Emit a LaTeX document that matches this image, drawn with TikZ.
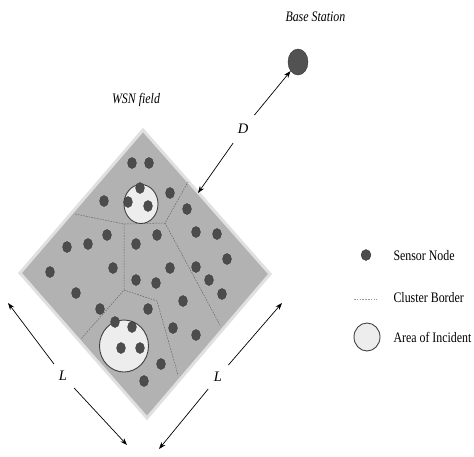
\documentclass[tikz,border=0pt]{standalone}
\usepackage{fontspec}
\usepackage{graphicx}
\setmainfont{Liberation Serif}
\usetikzlibrary{arrows.meta,calc,positioning,shapes.geometric}
\newcommand{\narrow}[1]{\scalebox{0.82}[1]{#1}}
\tikzset{
  field/.style={fill=black!30,draw=black!12,line width=3pt,line join=miter},
  cborder/.style={line width=0.5pt,black!60,dash pattern=on 1.6pt off 1.2pt},
  incident/.style={ellipse,draw=black!75,line width=0.9pt,fill=black!7,inner sep=0pt},
  sensor/.style={ellipse,fill=black!70,draw=black!80,line width=0.3pt,inner sep=0pt,
    minimum width=9pt,minimum height=11pt},
  bstation/.style={ellipse,fill=black!68,draw=black!80,inner sep=0pt,
    minimum width=20pt,minimum height=26pt},
  arr/.style={line width=0.7pt,-{Stealth[length=7pt,width=5pt]}},
  lbl/.style={font=\fontsize{14.5}{16}\selectfont},
  ital/.style={font=\fontsize{14.5}{16}\selectfont\itshape},
}

\begin{document}
\begin{tikzpicture}[x=1pt,y=-1pt]
  \useasboundingbox (0,0) rectangle (474,456);
  % ---------- the field ----------
  \coordinate (ftop) at (143,130);
  \coordinate (fright) at (270,274);
  \coordinate (fbot) at (147,418);
  \coordinate (fleft) at (20,273);
  \draw[field] (ftop) -- (fright) -- (fbot) -- (fleft) -- cycle;
  \node[ital] (wsn) at (136,100) {\narrow{WSN field}};
  % cluster borders
  \coordinate (c1) at (124,224);
  \coordinate (c2) at (165,223);
  \coordinate (c3) at (124,290);
  \coordinate (c4) at (157,301);
  \draw[cborder] (75,214) -- (c1) -- (c2) -- (188,182);
  \draw[cborder] (c1) -- (c3) -- (81,339);
  \draw[cborder] (c3) -- (c4) -- (178,375);
  \draw[cborder] (c2) -- (220,325);
  % areas of incident
  \node[incident,minimum width=34pt,minimum height=39pt] (inc1) at (141,204) {};
  \node[incident,minimum width=49pt,minimum height=52pt] (inc2) at (124,346) {};
  % sensor nodes
  \foreach \p [count=\i] in {(132,163),(149,163),(140,188),(128,202),(148,206),
      (170,193),(104,201),(187,209),(107,235),(157,235),(136,244),(196,232),
      (217,234),(67,247),(88,244),(227,259),(50,272),(113,268),(170,268),
      (196,267),(136,280),(156,283),(209,280),(222,294),(76,293),(100,309),
      (183,301),(148,309),(115,322),(132,327),(121,348),(140,348),(173,328),
      (196,335),(161,364),(144,381)}
    \node[sensor] (s\i) at \p {};
  % ---------- base station and distance D ----------
  \node[bstation] (bs) at (298,62) {};
  \node[ital,anchor=south west] (bslbl) at (282,25) {\narrow{Base Station}};
  \node[ital,inner sep=9pt] (dlab) at (243,129) {D};
  \coordinate (dend) at (198,193);
  \draw[arr] (dlab) -- (bs);
  \draw[arr] (dlab) -- (dend);
  % ---------- side lengths L ----------
  \node[ital,inner sep=7pt] (lleft) at (63,376) {L};
  \coordinate (ll1) at (8,303);
  \coordinate (ll2) at (127,445);
  \draw[arr] (lleft) -- (ll1);
  \draw[arr] (lleft) -- (ll2);
  \node[ital,inner sep=7pt] (lright) at (218,377) {L};
  \coordinate (lr1) at (282,303);
  \coordinate (lr2) at (159,449);
  \draw[arr] (lright) -- (lr1);
  \draw[arr] (lright) -- (lr2);
  % ---------- legend ----------
  \node[sensor,minimum width=10pt,minimum height=11pt] (legs) at (366,255) {};
  \node[lbl,anchor=west] (legstxt) at (390,256) {\narrow{Sensor Node}};
  \coordinate (legc1) at (354,299);
  \coordinate (legc2) at (377,299);
  \draw[cborder,black!40] (legc1) -- (legc2);
  \node[lbl,anchor=west] (legctxt) at (390,298) {\narrow{Cluster Border}};
  \node[incident,minimum width=26pt,minimum height=28pt] (legi) at (367,337) {};
  \node[lbl,anchor=west] (legitxt) at (390,337) {\narrow{Area of Incident}};
\end{tikzpicture}
\end{document}
